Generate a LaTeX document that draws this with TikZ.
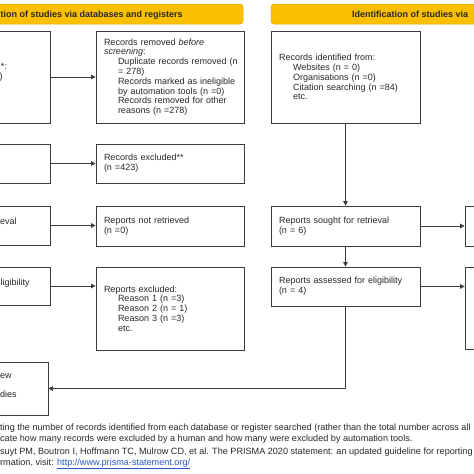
\documentclass[tikz,border=0pt]{standalone}
\usepackage{fontspec}
\setmainfont{Liberation Sans}
\usetikzlibrary{positioning,arrows.meta}
\definecolor{prismagold}{RGB}{252,192,0}
\definecolor{golddark}{RGB}{225,168,0}
\definecolor{linegray}{RGB}{60,60,60}
\definecolor{textgray}{RGB}{40,40,40}
\definecolor{linkblue}{RGB}{40,90,200}
\newcommand{\ind}[1]{\mbox{\hspace*{14pt}#1}}

\begin{document}
\begin{tikzpicture}[x=1pt,y=-1pt,
    box/.style={draw=linegray,line width=0.8pt,inner xsep=8pt,inner ysep=0pt,align=left,
        text=textgray,font=\fontsize{9}{9.8}\selectfont},
    head/.style={fill=prismagold,draw=golddark,line width=0.5pt,rounded corners=3pt,
        minimum height=20pt,inner sep=0pt},
    headtext/.style={anchor=base west,inner sep=0pt,text=textgray,font=\bfseries\fontsize{9}{10}\selectfont},
    frag/.style={anchor=base west,inner sep=0pt,text=textgray,font=\fontsize{9}{9.8}\selectfont},
    note/.style={anchor=base west,inner sep=0pt,text=textgray,font=\fontsize{9.1}{11}\selectfont},
    arr/.style={draw=linegray,line width=0.8pt,-{Triangle[length=4.5pt,width=4.5pt]}}]

    \useasboundingbox (0,0) rectangle (474,474);
    \clip (0,0) rectangle (474,474);
    \fill[white] (0,0) rectangle (474,474);

    % Headers
    \node[head,minimum width=343pt] (hdrL) at (71.5,14) {};
    \node[head,minimum width=429pt] (hdrR) at (485.5,14) {};
    \node[headtext] (hdrLtxt) at (0.5,17.2) {tion of studies via databases and registers};
    \node[headtext] (hdrRtxt) at (352,17.2) {Identification of studies via};

    % Databases and registers
    \node[box,minimum width=148pt,minimum height=92pt] (a1) at (-24,77) {};
    \node[box,text width=132pt,minimum height=92pt] (b1) at (170,77)
        {Records removed \textit{before}\\ \textit{screening}:\\
         \ind{Duplicate records removed (n}\\ \ind{= 278)}\\
         \ind{Records marked as ineligible}\\ \ind{by automation tools (n =0)}\\
         \ind{Records removed for other}\\ \ind{reasons (n =278)}};
    \node[box,minimum width=148pt,minimum height=39pt] (a2) at (-24,163.5) {};
    \node[box,text width=132pt,minimum height=39pt] (b2) at (170,163.5) {Records excluded**\\(n =423)};
    \node[box,minimum width=148pt,minimum height=39pt] (a3) at (-24,225.5) {};
    \node[box,text width=132pt,minimum height=40pt] (b3) at (170,226.5) {Reports not retrieved\\(n =0)};
    \node[box,minimum width=148pt,minimum height=38pt] (a4) at (-24,286) {};
    \node[box,text width=132pt,minimum height=83pt] (b4) at (170,308.5)
        {Reports excluded:\\ \ind{Reason 1 (n =3)}\\ \ind{Reason 2 (n = 1)}\\
         \ind{Reason 3 (n =3)}\\ \ind{etc.}};
    \node[box,minimum width=148pt,minimum height=53pt] (a5) at (-26,388.5) {};

    % cut-off texts at the left edge
    \node[frag] (a1txt) at (0.8,69) {*:};
    \node[frag] (a1txtb) at (-0.5,79) {)};
    \node[frag] (a3txt) at (0,224) {eval};
    \node[frag] (a4txt) at (0.5,285) {ligibility};
    \node[frag] (a5txt) at (0,378) {ew};
    \node[frag] (a5txtb) at (0,397) {dies};

    % Other methods
    \node[box,text width=133pt,minimum height=92pt] (c1) at (345.5,77)
        {Records identified from:\\ \ind{Websites (n = 0)}\\ \ind{Organisations (n =0)}\\
         \ind{Citation searching (n =84)}\\ \ind{etc.}};
    \node[box,text width=133pt,minimum height=40pt] (c3) at (345.5,226) {Reports sought for retrieval\\(n = 6)};
    \node[box,text width=133pt,minimum height=39pt] (c4) at (345.5,286.5) {Reports assessed for eligibility\\(n = 4)};
    \node[box,minimum width=148pt,minimum height=40pt] (d3) at (539,226) {};
    \node[box,minimum width=148pt,minimum height=82pt] (d4) at (539,308) {};

    % Arrows
    \draw[arr] (a1) -- (b1);
    \draw[arr] (a2) -- (b2);
    \draw[arr] (a3.east) -- (a3.east -| b3.west);
    \draw[arr] (a4.east) -- (a4.east -| b4.west);
    \draw[arr] (c1) -- (c3);
    \draw[arr] (c3) -- (c4);
    \draw[arr] (c3) -- (d3);
    \draw[arr] (c4.east) -- (c4.east -| d4.west);
    \draw[arr] (c4.south) |- (a5.east);

    % Footnotes
    \node[note] (fn1) at (0,430) {ting the number of records identified from each database or register searched (rather than the total number across all};
    \node[note] (fn2) at (0,441) {cate how many records were excluded by a human and how many were excluded by automation tools.};
    \node[note] (fn3) at (0,454) {suyt PM, Boutron I, Hoffmann TC, Mulrow CD, et al. The PRISMA 2020 statement: an updated guideline for reporting};
    \node[note] (fn4) at (0,465) {rmation, visit: \textcolor{linkblue}{\underline{http://www.prisma-statement.org/}}};
\end{tikzpicture}
\end{document}
